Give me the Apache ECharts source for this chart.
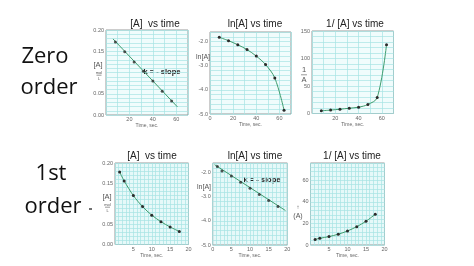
<!DOCTYPE html>
<html><head><meta charset="utf-8">
<script src="https://cdn.jsdelivr.net/npm/echarts@6/dist/echarts.min.js"></script>
<style>html,body{margin:0;padding:0;background:#fff}#c{width:474px;height:266px}</style>
</head><body><div id="c"></div>
<script>
// ---- data ----
const zeroTime = [8, 16, 24, 32, 40, 48, 56];
const zeroConc = [0.172, 0.149, 0.125, 0.103, 0.080, 0.056, 0.033];
const zeroFitTime = [6, 61];
const zeroFitConc = [0.179, 0.019];
const zeroLnTime = [8, 16, 24, 32, 40, 48, 56, 64];
const zeroLn = [-1.82, -1.96, -2.13, -2.33, -2.60, -2.95, -3.51, -4.84];
const zeroInv = [5.0, 6.2, 7.8, 9.6, 11.5, 16.4, 29, 125];
const firstTime = [1.25, 2.5, 5, 7.5, 10, 12.5, 15, 17.5];
const firstConc = [0.178, 0.156, 0.120, 0.093, 0.072, 0.056, 0.043, 0.032];
const firstLn = [-1.75, -1.93, -2.14, -2.40, -2.65, -2.91, -3.15, -3.40];
const firstLnFitTime = [0.5, 19.5];
const firstLnFit = [-1.67, -3.57];
const firstInv = [5.2, 6.2, 7.8, 10, 13, 17, 22, 28.5];
const concTicks = [0, 0.05, 0.15, 0.20];
const lnTicks = [-5, -4, -3, -2];
const zeroTimeTicksA = [20, 40, 60];
const zeroTimeTicksB = [0, 20, 40, 60];
const invZeroTicks = [0, 50, 100, 150];
const firstTimeTicksA = [5, 10, 15, 20];
const firstTimeTicksB = [0, 5, 10, 15, 20];
const invFirstTicks = [0, 20, 40, 60];

const FONT = 'Liberation Sans';
const LINE = '#3f9c6e', DOT = '#2a2a2a', GRIDC = '#a6e4e4', BORDER = '#9a9a9a';
const BG0 = '#f0fcfc', BG1 = '#e6f9f9';
const zip = (a, b) => a.map((v, i) => [v, b[i]]);
const has = (arr, v) => arr.some(t => Math.abs(t - v) < 1e-6);

function grid(l, t, w, h, bg) {
  return {left: l, top: t, width: w, height: h, show: true, backgroundColor: bg,
          borderColor: BORDER, borderWidth: 1, containLabel: false};
}
function xAx(i, min, max, interval, ticks) {
  return {type: 'value', gridIndex: i, min, max, interval,
    axisLine: {show: false}, axisTick: {show: false},
    splitLine: {show: true, lineStyle: {color: GRIDC, width: 0.7}},
    axisLabel: {fontSize: 5.5, color: '#666', margin: 1.5, fontFamily: FONT,
      formatter: v => has(ticks, v) ? String(Math.round(v)) : ''},
    name: 'Time, sec.', nameLocation: 'middle', nameGap: 6,
    nameTextStyle: {fontSize: 5, color: '#666', fontFamily: FONT}};
}
function yAx(i, min, max, interval, ticks, dec) {
  return {type: 'value', gridIndex: i, min, max, interval,
    axisLine: {show: false}, axisTick: {show: false},
    splitLine: {show: true, lineStyle: {color: GRIDC, width: 0.7}},
    axisLabel: {fontSize: 5.5, color: '#666', margin: 2, fontFamily: FONT,
      formatter: v => has(ticks, v) ? v.toFixed(dec) : ''}};
}
function curve(i, t, v, smooth) {
  return {type: 'line', xAxisIndex: i, yAxisIndex: i, data: zip(t, v), smooth: smooth,
    symbol: 'circle', symbolSize: 3, showSymbol: true,
    itemStyle: {color: DOT}, lineStyle: {color: LINE, width: 1}, silent: true};
}
function dots(i, t, v) {
  return {type: 'scatter', xAxisIndex: i, yAxisIndex: i, data: zip(t, v),
    symbol: 'circle', symbolSize: 3, itemStyle: {color: DOT}, z: 3, silent: true};
}
function fit(i, t, v) {
  return {type: 'line', xAxisIndex: i, yAxisIndex: i, data: zip(t, v), showSymbol: false,
    lineStyle: {color: LINE, width: 1}, silent: true};
}
function txt(x, y, s, size, opts) {
  return {type: 'text', x: x, y: y, silent: true,
    style: Object.assign({text: s, fontSize: size, fontFamily: FONT, fill: '#222',
      align: 'center', verticalAlign: 'middle'}, opts || {})};
}
function hline(x1, x2, y, col, w) {
  return {type: 'line', silent: true, shape: {x1: x1, y1: y, x2: x2, y2: y},
    style: {stroke: col || '#555', lineWidth: w || 0.6}};
}

const chart = echarts.init(document.getElementById('c'), null, {renderer: 'canvas'});
chart.setOption({
  animation: false,
  backgroundColor: '#fff',
  grid: [
    grid(106, 30, 82, 85, BG0),
    grid(210, 32, 81, 82, BG0),
    grid(312, 31, 81.5, 82.5, BG0),
    grid(115, 163, 73.5, 81.5, BG1),
    grid(212.7, 163, 74.6, 82, BG1),
    grid(310.5, 163, 74, 82, BG1)
  ],
  xAxis: [
    xAx(0, 0, 70, 10, zeroTimeTicksA),
    xAx(1, 0, 70, 10, zeroTimeTicksB),
    xAx(2, 0, 70, 10, zeroTimeTicksA),
    xAx(3, 0, 20, 1, firstTimeTicksA),
    xAx(4, 0, 20, 1, firstTimeTicksB),
    xAx(5, 0, 20, 1, firstTimeTicksA)
  ],
  yAxis: [
    yAx(0, 0, 0.2, 0.01, concTicks, 2),
    yAx(1, -5, -1.6, 0.2, lnTicks, 1),
    yAx(2, 0, 150, 10, invZeroTicks, 0),
    yAx(3, 0, 0.2, 0.01, concTicks, 2),
    yAx(4, -5, -1.6, 0.2, lnTicks, 1),
    yAx(5, 0, 76, 4, invFirstTicks, 0)
  ],
  series: [
    fit(0, zeroFitTime, zeroFitConc), dots(0, zeroTime, zeroConc),
    curve(1, zeroLnTime, zeroLn, 0.35),
    curve(2, zeroLnTime, zeroInv, 0.35),
    curve(3, firstTime, firstConc, 0.3),
    fit(4, firstLnFitTime, firstLnFit), dots(4, firstTime, firstLn),
    curve(5, firstTime, firstInv, 0.3)
  ],
  graphic: [
    txt(45, 57, 'Zero', 22, {fontFamily: 'Open Sans', fill: '#111'}),
    txt(49, 88, 'order', 22, {fontFamily: 'Open Sans', fill: '#111'}),
    txt(51, 174, '1st', 22, {fontFamily: 'Open Sans', fill: '#111'}),
    txt(53, 207, 'order', 22, {fontFamily: 'Open Sans', fill: '#111'}),
    txt(155, 24, '[A]  vs time', 10),
    txt(255, 24, 'ln[A] vs time', 10),
    txt(355, 24, '1/ [A] vs time', 10),
    txt(152, 156, '[A]  vs time', 10),
    txt(255, 156, 'ln[A] vs time', 10),
    txt(352, 156, '1/ [A] vs time', 10),
    txt(162, 72, 'k = - slope', 7.5, {fontWeight: 'bold'}),
    txt(262, 180, 'k = - slope', 7.5, {fontWeight: 'bold'}),
    txt(98, 65, '[A]', 7.5, {fill: '#555'}),
    txt(99, 72.5, 'mol', 4, {fill: '#555'}),
    hline(96.5, 101.5, 75.2),
    txt(99, 78.5, 'L', 4, {fill: '#555'}),
    txt(107, 197, '[A]', 7.5, {fill: '#555'}),
    txt(107.5, 204.5, 'mol', 4, {fill: '#555'}),
    hline(105, 110, 207.2),
    txt(107.5, 210.5, 'L', 4, {fill: '#555'}),
    txt(203, 57, 'ln[A]', 7, {fill: '#555'}),
    txt(204, 187, 'ln[A]', 7, {fill: '#555'}),
    txt(304, 70, '1', 7.5, {fill: '#555'}),
    hline(301, 307, 74.8),
    txt(304, 80, 'A', 7.5, {fill: '#555'}),
    txt(298, 207, '↑', 6, {fill: '#555'}),
    txt(298, 216.5, '(A)', 7, {fill: '#555'}),
    hline(89, 92, 209, '#111', 1.2)
  ]
});
</script></body></html>
